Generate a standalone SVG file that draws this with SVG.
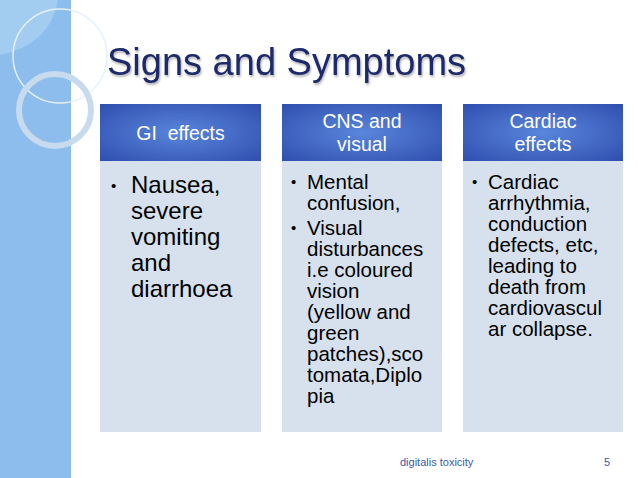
<svg xmlns="http://www.w3.org/2000/svg" width="638" height="478" viewBox="0 0 638 478">
<defs>
<radialGradient id="hg" cx="0.5" cy="0.5" r="0.7">
<stop offset="0" stop-color="#5a86dc"/><stop offset="1" stop-color="#2f4fae"/>
</radialGradient>
<filter id="sh" x="-5%" y="-5%" width="110%" height="120%"><feDropShadow dx="1" dy="2" stdDeviation="1" flood-color="#000" flood-opacity="0.3"/></filter>
</defs>
<style>
.hd{fill:url(#hg)}
.bd{fill:#d7e1ee}
.ht{font-family:"Liberation Sans",Arial,sans-serif;font-size:19.5px;fill:#fff;text-anchor:middle}
.bt{font-family:"Liberation Sans",Arial,sans-serif;fill:#000}
.b1{font-size:24px}
.b2{font-size:20.5px}
.bu{font-size:15px}
</style>
<rect width="638" height="478" fill="#fff"/>
<g id="sidebar">
<rect x="0" y="0" width="71" height="478" fill="#8dbdec"/>
<path d="M0 0 H58 Q50 45 0 55 Z" fill="#a9d0f3" opacity="0.8"/>
<circle cx="60" cy="56" r="47" fill="none" stroke="#e6f1fb" stroke-width="1.5"/>
<circle cx="55" cy="110" r="36" fill="none" stroke="#c8dbee" stroke-width="6"/>
</g>
<g id="title"><text x="107" y="75" font-family="Liberation Sans,Arial,sans-serif" font-size="38" fill="#1e2a6a" filter="url(#sh)">Signs and Symptoms</text></g>
<g id="col-gi">
<rect class="bd" x="100" y="161" width="161" height="271"/>
<rect class="hd" x="100" y="104" width="161" height="57"/>
<text class="ht" x="180.5" y="140" xml:space="preserve">GI  effects</text>
<g class="bt">
<text class="bu" x="111" y="191">•</text>
<text class="b1" x="131" y="193">Nausea,</text>
<text class="b1" x="131" y="219">severe</text>
<text class="b1" x="131" y="245">vomiting</text>
<text class="b1" x="131" y="271">and</text>
<text class="b1" x="131" y="297">diarrhoea</text>
</g>
</g>
<g id="col-cns">
<rect class="bd" x="282" y="161" width="160" height="271"/>
<rect class="hd" x="282" y="104" width="160" height="57"/>
<text class="ht" x="362" y="128">CNS and</text>
<text class="ht" x="362" y="151">visual</text>
<g class="bt">
<text class="bu" x="291" y="187">•</text>
<text class="bu" x="291" y="233">•</text>
<g class="b2">
<text x="307" y="189">Mental</text>
<text x="307" y="210">confusion,</text>
<text x="307" y="235">Visual</text>
<text x="307" y="256">disturbances</text>
<text x="307" y="277">i.e coloured</text>
<text x="307" y="298">vision</text>
<text x="307" y="319">(yellow and</text>
<text x="307" y="340">green</text>
<text x="307" y="361">patches),sco</text>
<text x="307" y="382">tomata,Diplo</text>
<text x="307" y="403">pia</text>
</g>
</g>
</g>
<g id="col-cardiac">
<rect class="bd" x="463" y="161" width="160" height="271"/>
<rect class="hd" x="463" y="104" width="160" height="57"/>
<text class="ht" x="543" y="128">Cardiac</text>
<text class="ht" x="543" y="151">effects</text>
<g class="bt">
<text class="bu" x="472" y="187">•</text>
<g class="b2">
<text x="488" y="189">Cardiac</text>
<text x="488" y="210">arrhythmia,</text>
<text x="488" y="231">conduction</text>
<text x="488" y="252">defects, etc,</text>
<text x="488" y="273">leading to</text>
<text x="488" y="294">death from</text>
<text x="488" y="315">cardiovascul</text>
<text x="488" y="336">ar collapse.</text>
</g>
</g>
</g>
<g id="footer" font-family="Liberation Sans,Arial,sans-serif" font-size="11" fill="#3b5aa8">
<text x="400" y="466">digitalis toxicity</text>
<text x="604" y="466">5</text>
</g>
</svg>
